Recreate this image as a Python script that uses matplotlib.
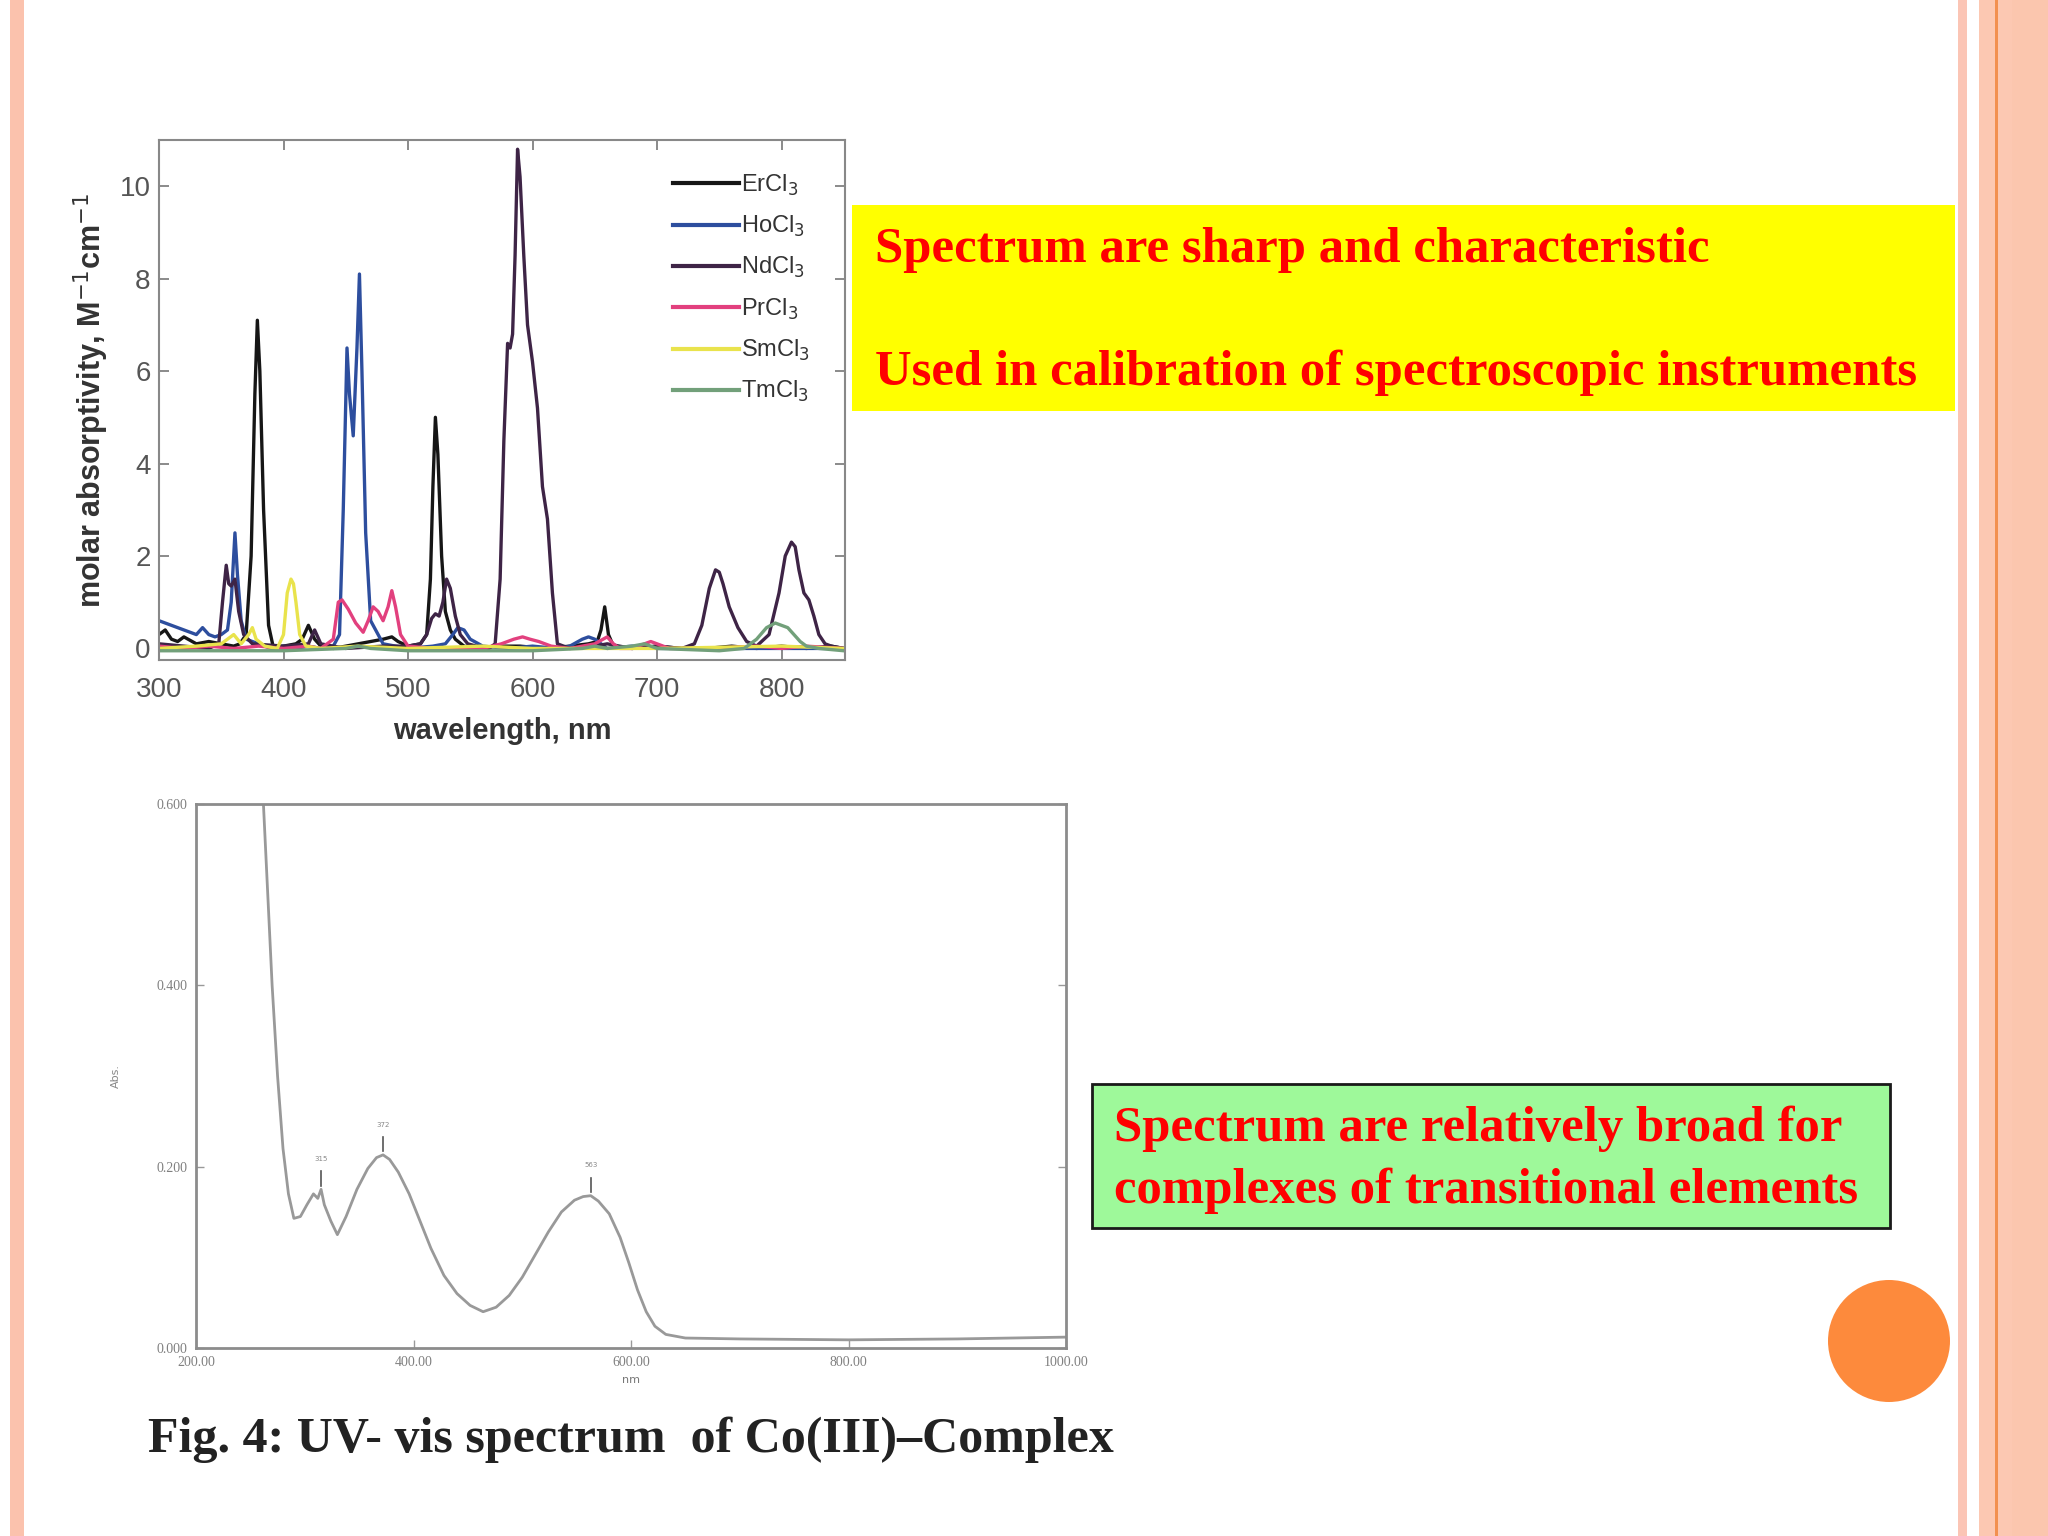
import matplotlib
matplotlib.use("Agg")
import matplotlib.pyplot as plt
from matplotlib.patches import Rectangle, Circle

W, H = 2048, 1536

# --- top chart: lanthanide chloride spectra (wavelength nm, molar absorptivity)
er_wl = [300, 305, 310, 315, 320, 330, 340, 350, 360, 365, 370, 374, 377, 379, 381, 384, 388, 392,
         400, 410, 415, 420, 425, 430, 440, 450, 460, 470, 480, 487, 492, 500, 510, 515, 518, 520,
         522, 524, 527, 530, 534, 538, 545, 555, 570, 590, 610, 630, 645, 652, 655, 658, 661, 665,
         680, 700, 720, 740, 760, 780, 800, 820, 840, 850]
er_val = [0.3, 0.4, 0.2, 0.15, 0.25, 0.1, 0.15, 0.1, 0.05, 0.1, 0.3, 2.0, 5.5, 7.1, 6.0, 3.0, 0.5, 0.0,
          0.05, 0.1, 0.2, 0.5, 0.2, 0.05, 0.0, 0.05, 0.1, 0.15, 0.2, 0.25, 0.15, 0.05, 0.1, 0.3, 1.5, 3.5,
          5.0, 4.2, 2.0, 0.8, 0.4, 0.2, 0.05, 0.0, 0.05, 0.05, 0.0, 0.05, 0.1, 0.15, 0.4, 0.9, 0.3, 0.05,
          0.0, 0.05, 0.0, 0.0, 0.05, 0.0, 0.05, 0.0, 0.05, 0.0]

ho_wl = [300, 310, 320, 330, 335, 340, 345, 350, 355, 358, 361, 363, 366, 370, 380, 390, 400, 410,
         420, 430, 440, 445, 448, 451, 453, 456, 459, 461, 463, 466, 470, 480, 490, 500, 520, 530,
         536, 540, 545, 550, 560, 580, 600, 620, 630, 640, 645, 650, 655, 660, 680, 700, 750, 800, 850]
ho_val = [0.6, 0.5, 0.4, 0.3, 0.45, 0.3, 0.25, 0.3, 0.4, 1.0, 2.5, 1.6, 0.6, 0.2, 0.1, 0.0, 0.05, 0.0,
          0.05, 0.0, 0.05, 0.3, 3.0, 6.5, 5.5, 4.6, 6.5, 8.1, 6.0, 2.5, 0.6, 0.1, 0.05, 0.0, 0.05, 0.1,
          0.3, 0.45, 0.4, 0.2, 0.05, 0.0, 0.05, 0.0, 0.05, 0.2, 0.25, 0.2, 0.1, 0.0, 0.05, 0.0, 0.0, 0.0, 0.0]

nd_wl = [300, 320, 340, 348, 351, 354, 356, 358, 361, 364, 368, 375, 400, 420, 425, 430, 450, 480,
         500, 510, 515, 519, 522, 525, 528, 531, 534, 538, 542, 548, 555, 565, 570, 574, 577, 580,
         582, 584, 586, 588, 590, 593, 596, 600, 604, 608, 612, 616, 620, 630, 650, 660, 680, 700,
         720, 730, 736, 742, 747, 750, 753, 758, 765, 772, 780, 790, 798, 803, 808, 811, 814, 818,
         822, 826, 830, 835, 840, 850]
nd_val = [0.1, 0.05, 0.0, 0.1, 1.0, 1.8, 1.4, 1.35, 1.5, 0.8, 0.3, 0.1, 0.05, 0.1, 0.4, 0.1, 0.0, 0.05,
          0.05, 0.1, 0.3, 0.65, 0.75, 0.7, 1.0, 1.5, 1.3, 0.7, 0.3, 0.1, 0.05, 0.0, 0.1, 1.5, 4.5, 6.6,
          6.5, 6.8, 8.5, 10.8, 10.2, 8.5, 7.0, 6.2, 5.2, 3.5, 2.8, 1.2, 0.1, 0.0, 0.05, 0.1, 0.0, 0.05,
          0.0, 0.1, 0.5, 1.3, 1.7, 1.65, 1.4, 0.9, 0.45, 0.15, 0.05, 0.3, 1.2, 2.0, 2.3, 2.2, 1.7, 1.2,
          1.05, 0.7, 0.3, 0.1, 0.05, 0.0]

pr_wl = [300, 320, 340, 360, 380, 400, 420, 430, 440, 444, 447, 452, 458, 464, 468, 472, 476, 480,
         484, 487, 490, 494, 500, 520, 560, 575, 585, 592, 598, 605, 615, 630, 650, 660, 665, 670,
         680, 690, 695, 700, 710, 740, 780, 800, 820, 850]
pr_val = [0.05, 0.0, 0.05, 0.0, 0.05, 0.0, 0.05, 0.0, 0.2, 1.0, 1.05, 0.85, 0.55, 0.35, 0.6, 0.9, 0.8, 0.6,
          0.9, 1.25, 0.9, 0.3, 0.05, 0.0, 0.0, 0.1, 0.2, 0.25, 0.2, 0.15, 0.05, 0.0, 0.1, 0.25, 0.1, 0.0,
          0.0, 0.1, 0.15, 0.1, 0.0, 0.0, 0.05, 0.0, 0.05, 0.0]

sm_wl = [300, 330, 350, 360, 363, 366, 372, 375, 378, 385, 395, 400, 403, 406, 408, 410, 413, 418,
         430, 460, 500, 560, 600, 700, 800, 850]
sm_val = [0.0, 0.05, 0.1, 0.3, 0.2, 0.1, 0.3, 0.45, 0.2, 0.05, 0.0, 0.3, 1.2, 1.5, 1.4, 1.0, 0.3, 0.05,
          0.0, 0.05, 0.0, 0.05, 0.0, 0.0, 0.05, 0.0]

tm_wl = [300, 350, 400, 450, 460, 470, 500, 600, 640, 650, 660, 680, 690, 700, 750, 770, 780, 788,
         795, 800, 805, 810, 815, 820, 830, 850]
tm_val = [-0.05, -0.05, -0.05, 0.0, 0.05, 0.0, -0.05, -0.05, 0.0, 0.05, 0.0, 0.05, 0.1, 0.0, -0.05, 0.0,
          0.2, 0.45, 0.55, 0.5, 0.45, 0.3, 0.15, 0.05, 0.0, -0.05]

series = [
    ("ErCl$_3$", er_wl, er_val, "#161616"),
    ("HoCl$_3$", ho_wl, ho_val, "#2d4e9e"),
    ("NdCl$_3$", nd_wl, nd_val, "#3e2446"),
    ("PrCl$_3$", pr_wl, pr_val, "#e2407e"),
    ("SmCl$_3$", sm_wl, sm_val, "#e9e34c"),
    ("TmCl$_3$", tm_wl, tm_val, "#72a07a"),
]
top_xticks = [300, 400, 500, 600, 700, 800]
top_yticks = [0, 2, 4, 6, 8, 10]

# --- bottom chart: Co(III) complex spectrum
co_wl = [262, 266, 270, 275, 280, 285, 290, 296, 302, 308, 312, 315, 318, 324, 330, 338, 348, 358,
         366, 372, 378, 386, 396, 406, 416, 428, 440, 452, 464, 476, 488, 500, 512, 524, 536, 548,
         556, 563, 570, 580, 590, 598, 606, 614, 622, 632, 650, 700, 800, 900, 1000]
co_abs = [0.60, 0.50, 0.40, 0.30, 0.22, 0.17, 0.143, 0.145, 0.158, 0.17, 0.165, 0.175, 0.158, 0.14,
          0.125, 0.145, 0.175, 0.198, 0.21, 0.213, 0.208, 0.194, 0.17, 0.14, 0.11, 0.08, 0.06, 0.047,
          0.04, 0.045, 0.058, 0.078, 0.103, 0.128, 0.15, 0.163, 0.167, 0.168, 0.162, 0.148, 0.122,
          0.094, 0.064, 0.04, 0.024, 0.015, 0.011, 0.01, 0.009, 0.01, 0.012]
co_peaks = [315, 372, 563]
co_xticks = [200, 400, 600, 800, 1000]
co_xlabels = ["200.00", "400.00", "600.00", "800.00", "1000.00"]
co_yticks = [0.0, 0.2, 0.4, 0.6]
co_ylabels = ["0.000", "0.200", "0.400", "0.600"]


def box(left, top, right, bottom):
    return [left / W, 1 - bottom / H, (right - left) / W, (bottom - top) / H]


fig = plt.figure(figsize=(20.48, 15.36), dpi=100)
fig.patch.set_facecolor("white")

# slide background / decorations in pixel coordinates
bg = fig.add_axes([0, 0, 1, 1], zorder=-5)
bg.set_xlim(0, W)
bg.set_ylim(H, 0)
bg.axis("off")
bg.add_patch(Rectangle((10, 0), 14, H, color="#fbc2ad", lw=0))
bg.add_patch(Rectangle((1958, 0), 9, H, color="#fbc5b5", lw=0))
bg.add_patch(Rectangle((1979, 0), 69, H, color="#fcc8b2", lw=0))
bg.add_patch(Rectangle((2012, 0), 36, H, color="#fbc6ae", lw=0))
bg.add_patch(Rectangle((1995, 0), 2.5, H, color="#f29050", lw=0))

serif = "Liberation Serif"
big = 36.5
bg.add_patch(Rectangle((852, 205), 1103, 206, color="#ffff00", lw=0))
bg.text(875, 250, "Spectrum are sharp and characteristic", color="#ff0000", fontsize=big,
        fontweight="bold", family=serif, va="center", ha="left")
bg.text(875, 373, "Used in calibration of spectroscopic instruments", color="#ff0000", fontsize=big,
        fontweight="bold", family=serif, va="center", ha="left")

bg.add_patch(Rectangle((1092, 1084), 798, 144, facecolor="#9ef99a", edgecolor="#1a1a1a", lw=2))
bg.text(1114, 1129, "Spectrum are relatively broad for", color="#ff0000", fontsize=big,
        fontweight="bold", family=serif, va="center", ha="left")
bg.text(1114, 1191, "complexes of transitional elements", color="#ff0000", fontsize=big,
        fontweight="bold", family=serif, va="center", ha="left")

bg.add_patch(Circle((1889, 1341), 61, color="#fd8a3c", lw=0))

bg.text(148, 1440, "Fig. 4: UV- vis spectrum  of Co(III)\u2013Complex", color="#222222", fontsize=36,
        fontweight="bold", family=serif, va="center", ha="left")

# top chart
sans = "Liberation Sans"
ax = fig.add_axes(box(159, 140, 845, 660))
for name, wl, val, col in series:
    ax.plot(wl, val, color=col, lw=2.4, label=name)
ax.set_xlim(300, 851)
ax.set_ylim(-0.25, 11)
ax.set_xticks(top_xticks)
ax.set_yticks(top_yticks)
ax.tick_params(direction="in", top=True, right=True, length=7, width=1.2, color="#777777",
               labelsize=20, labelcolor="#555555")
ax.tick_params(axis="x", pad=12)
ax.tick_params(axis="y", pad=6)
for t in ax.get_xticklabels() + ax.get_yticklabels():
    t.set_family(sans)
for s in ax.spines.values():
    s.set_color("#888888")
    s.set_linewidth(1.5)
ax.set_xlabel("wavelength, nm", fontsize=21, fontweight="bold", family=sans, color="#333333")
ax.xaxis.set_label_coords(0.5, -0.11)
ax.set_ylabel("molar absorptivity, M$^{-1}$cm$^{-1}$", fontsize=22, fontweight="bold",
              family=sans, color="#333333")
ax.yaxis.set_label_coords(-0.07, 0.5)
leg = ax.legend(loc="upper left", bbox_to_anchor=(0.749, 0.937), frameon=False,
                handlelength=2.8, handletextpad=0.1, labelspacing=0.68, borderpad=0,
                borderaxespad=0, prop={"family": sans, "size": 17})
for line in leg.get_lines():
    line.set_linewidth(3)
for t in leg.get_texts():
    t.set_color("#333333")

# bottom chart
ax2 = fig.add_axes(box(196, 804, 1066, 1348))
ax2.plot(co_wl, co_abs, color="#999999", lw=2)
ax2.set_xlim(200, 1000)
ax2.set_ylim(0, 0.6)
ax2.set_xticks(co_xticks)
ax2.set_xticklabels(co_xlabels)
ax2.set_yticks(co_yticks)
ax2.set_yticklabels(co_ylabels)
ax2.tick_params(direction="in", right=True, length=6, width=1, color="#999999",
                labelsize=10, labelcolor="#808080", pad=6)
for t in ax2.get_xticklabels() + ax2.get_yticklabels():
    t.set_family(serif)
for s in ax2.spines.values():
    s.set_color("#8c8c8c")
    s.set_linewidth(2)
for p in co_peaks:
    i = co_wl.index(p)
    ax2.plot([p, p], [co_abs[i] + 0.004, co_abs[i] + 0.02], color="#555555", lw=1.2)
    ax2.text(p, co_abs[i] + 0.03, str(p), fontsize=5, color="#888888", ha="center", va="bottom")
ax2.set_xlabel("nm", fontsize=8, color="#777777", labelpad=4)
ax2.set_ylabel("Abs.", fontsize=8, color="#888888", labelpad=26)

fig.savefig("out.png", dpi=100, facecolor="white")
